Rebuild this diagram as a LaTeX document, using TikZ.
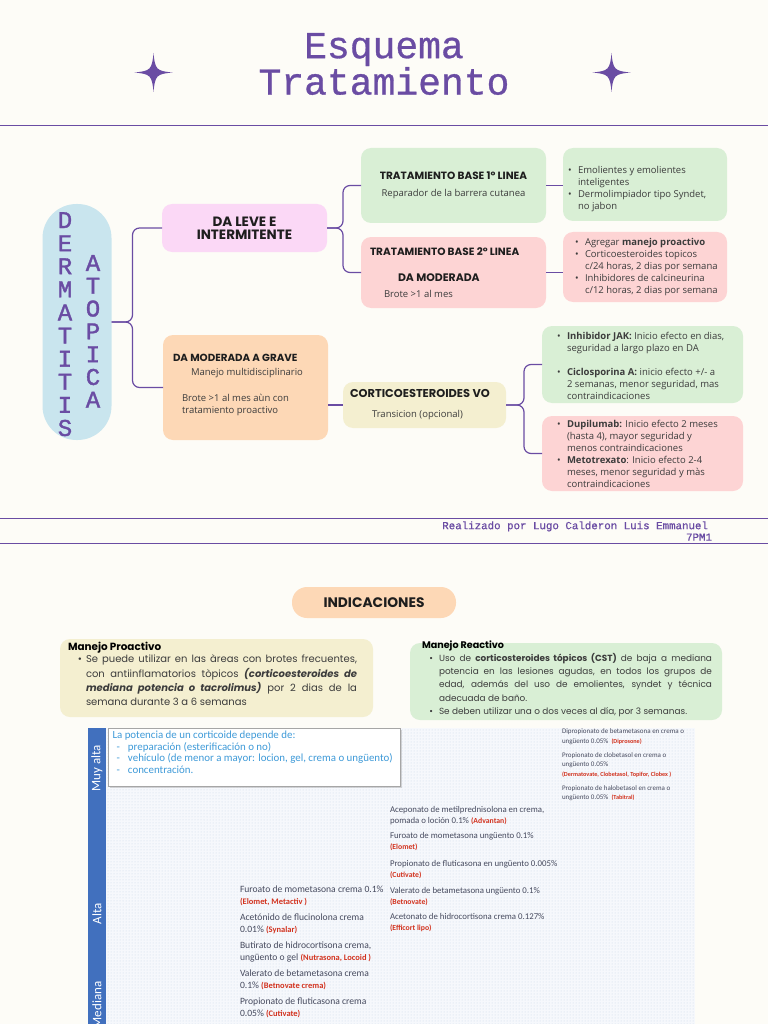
\documentclass[tikz,border=0pt]{standalone}
\usepackage{fontspec}
\setmainfont{Open Sans}
\newfontfamily\headfont{Poppins}
\newfontfamily\titlefont{Liberation Mono}[FakeBold=0.8]
\newfontfamily\letrafont{Liberation Mono}[FakeBold=1.5]
\newfontfamily\tablafont{Carlito}
\usetikzlibrary{positioning,patterns,shadows}

\definecolor{fondo}{HTML}{FDFCF7}
\definecolor{morado}{HTML}{6A4CA3}
\definecolor{celeste}{HTML}{C9E5EE}
\definecolor{rosa}{HTML}{FBD8F6}
\definecolor{verde}{HTML}{D9EFD5}
\definecolor{rojizo}{HTML}{FDD4D4}
\definecolor{durazno}{HTML}{FDD8B6}
\definecolor{amarillo}{HTML}{F4EFD0}
\definecolor{tinta}{HTML}{1E1E1E}
\definecolor{gris}{HTML}{3C3C3C}
\definecolor{azulbarra}{HTML}{4170BE}
\definecolor{punteado}{HTML}{F6F8FC}
\definecolor{puntos}{HTML}{C9D6EA}
\definecolor{azulnota}{HTML}{3E9AD8}
\definecolor{azultexto}{HTML}{464A5E}
\definecolor{rojo}{HTML}{D2321E}

\newcommand{\enc}[2][10.5]{{\headfont\bfseries\fontsize{#1}{10}\selectfont\color{tinta}#2}}
\newcommand{\bala}{\makebox[10pt][l]{\textbullet}}
\newcommand{\sig}{\hspace*{10pt}}
\makeatletter
\newcommand{\marca}[1]{{\color{rojo}\bfseries\fontsize{\fpeval{0.88*\f@size}}{\f@baselineskip}\selectfont #1}}
\makeatother

\begin{document}
\begin{tikzpicture}[x = 1pt, y = -1pt,
    every node/.style = {inner sep = 0pt, outer sep = 0pt},
    caja/.style = {rounded corners = 10pt},
    enlace/.style = {draw = morado, line width = 1.2pt, rounded corners = 7pt},
    texto/.style = {font = \fontsize{9.5}{12}\selectfont, text = gris, align = left},
    letra/.style = {font = \letrafont\fontsize{24}{24}\selectfont, text = morado},
    tabla/.style = {font = \tablafont\fontsize{8.8}{11}\selectfont, text = azultexto, align = left, anchor = north west},
    barra/.style = {rotate = 90, font = \tablafont\fontsize{13}{13}\selectfont, text = white}]

    \fill[fondo] (0,0) rectangle (768,1024);
    \useasboundingbox (0,0) rectangle (768,1024);

    \node[font = \titlefont\fontsize{38}{35}\selectfont, text = morado, align = center] (titulo) at (384,64) {Esquema\\Tratamiento};
    \foreach \cx in {153.5, 611.5}
        \fill[morado, shift = {(\cx,72.5)}] (0,-19.5) .. controls (1.5,-3) and (3,-1.5) .. (19,0)
            .. controls (3,1.5) and (1.5,3) .. (0,19.5) .. controls (-1.5,3) and (-3,1.5) .. (-19,0)
            .. controls (-3,-1.5) and (-1.5,-3) .. cycle;
    \draw[morado, line width = 1pt] (0,126) -- (768,126);

    \node[fill = celeste, rounded corners = 34pt, minimum width = 69pt, minimum height = 236pt] (derm) at (77,322) {};
    \foreach \l [count = \i] in {D,E,R,M,A,T,I,T,I,S}
        \node[letra] (d\i) at (65, 197 + 23.1*\i) {\l};
    \foreach \l [count = \i] in {A,T,O,P,I,C,A}
        \node[letra] (a\i) at (93, 240.2 + 22.8*\i) {\l};

    \node[caja, fill = rosa, minimum width = 165pt, minimum height = 48pt, align = center,
        font = \headfont\bfseries\fontsize{13.5}{13}\selectfont, text = tinta] (leve) at (244.5,228) {DA LEVE E\\INTERMITENTE};
    \node[caja, fill = durazno, minimum width = 165pt, minimum height = 105pt] (grave) at (245.5,387.5) {};
    \node[texto, right = 10pt of grave.west, yshift = 3pt] (tgrave) {\enc[10.3]{DA MODERADA A GRAVE}\\[2pt]
        \hspace*{18pt}Manejo multidisciplinario\\[14pt]
        \hspace*{9pt}Brote >1 al mes aùn con\\
        \hspace*{9pt}tratamiento proactivo};

    \node[caja, fill = verde, minimum width = 185pt, minimum height = 75pt, texto, align = center] (base1) at (453.5,185.5)
        {\enc{TRATAMIENTO BASE 1° LINEA}\\[5pt]Reparador de la barrera cutanea};
    \node[caja, fill = rojizo, minimum width = 185pt, minimum height = 71pt] (base2) at (453.5,272.5) {};
    \node[texto, right = 9pt of base2.west] (tbase2) {\enc{TRATAMIENTO BASE 2° LINEA}\\[14pt]
        \hspace*{28pt}\enc[10.9]{DA MODERADA}\\[4pt]
        \hspace*{14pt}Brote >1 al mes};

    \node[caja, fill = verde, minimum width = 164pt, minimum height = 73pt] (lista1) at (645,184.5) {};
    \node[texto, right = 5pt of lista1.west, yshift = -4.5pt] (tlista1) {\bala Emolientes y emolientes\\
        \sig inteligentes\\
        \bala Dermolimpiador tipo Syndet,\\
        \sig no jabon};
    \node[caja, fill = rojizo, minimum width = 164pt, minimum height = 70pt] (lista2) at (645,267) {};
    \node[texto, right = 12pt of lista2.west] (tlista2) {\bala Agregar \textbf{manejo proactivo}\\
        \bala Corticoesteroides topicos\\
        \sig c/24 horas, 2 dias por semana\\
        \bala Inhibidores de calcineurina\\
        \sig c/12 horas, 2 dias por semana};

    \node[caja, fill = amarillo, minimum width = 163pt, minimum height = 46pt] (cortico) at (424.5,405) {};
    \node[texto, right = 7pt of cortico.west] (tcortico) {\enc[11.4]{CORTICOESTEROIDES VO}\\[8pt]
        \hspace*{22pt}Transicion (opcional)};

    \node[caja, fill = verde, minimum width = 201pt, minimum height = 77pt] (jak) at (642.5,364.5) {};
    \node[texto, right = 15pt of jak.west, yshift = -1pt] (tjak) {\bala\textbf{Inhibidor JAK:} Inicio efecto en dias,\\
        \sig seguridad a largo plazo en DA\\[12pt]
        \bala\textbf{Ciclosporina A:} inicio efecto +/- a\\
        \sig 2 semanas, menor seguridad, mas\\
        \sig contraindicaciones};
    \node[caja, fill = rojizo, minimum width = 201pt, minimum height = 75pt] (dupi) at (642.5,453.5) {};
    \node[texto, right = 15pt of dupi.west] (tdupi) {\bala\textbf{Dupilumab:} Inicio efecto 2 meses\\
        \sig (hasta 4), mayor seguridad y\\
        \sig menos contraindicaciones\\
        \bala\textbf{Metotrexato}: Inicio efecto 2-4\\
        \sig meses, menor seguridad y màs\\
        \sig contraindicaciones};

    \draw[enlace] (derm.east) -- ++(21,0) |- (leve.west);
    \draw[enlace] (derm.east) -- ++(21,0) |- (grave.west);
    \draw[enlace] (leve.east) -- ++(16,0) |- (base1.west);
    \draw[enlace] (leve.east) -- ++(16,0) |- (base2.west);
    \draw[enlace] (base1.east) -- (base1.east -| lista1.west);
    \draw[enlace] (base2.east) -- (base2.east -| lista2.west);
    \draw[enlace] (cortico.west -| grave.east) -- (cortico.west);
    \draw[enlace] (cortico.east) -- ++(18,0) |- (jak.west);
    \draw[enlace] (cortico.east) -- ++(18,0) |- (dupi.west);

    \draw[morado, line width = 1pt] (0,518) -- (768,518);
    \draw[morado, line width = 1pt] (0,543) -- (768,543);
    \node[font = \titlefont\fontsize{10.8}{11.5}\selectfont, text = morado, align = right, anchor = east] (firma) at (712,531)
        {Realizado por Lugo Calderon Luis Emmanuel\hspace*{4pt}\\7PM1};

    \node[fill = durazno, rounded corners = 15pt, minimum width = 164pt, minimum height = 31pt,
        font = \headfont\bfseries\fontsize{13.8}{12}\selectfont, text = tinta] (indic) at (374,602.5) {INDICACIONES};

    \node[caja, fill = amarillo, minimum width = 313pt, minimum height = 78pt] (proact) at (216.5,678) {};
    \node[font = \headfont\bfseries\fontsize{10.4}{10}\selectfont, text = black, anchor = north west] (tproact)
        at ([xshift = 8pt, yshift = -3pt]proact.north west) {Manejo Proactivo};
    \node[font = \headfont\fontsize{10}{14.3}\selectfont, text = gris, text width = 271pt, align = justify, anchor = north west] (cproact)
        at ([xshift = 26pt, yshift = -16pt]proact.north west)
        {\noindent\llap{\textbullet\hspace{4pt}}Se puede utilizar en las àreas con brotes frecuentes,\linebreak
        con antiinflamatorios tòpicos \textbf{\textit{(corticoesteroides de}}\linebreak
        \textbf{\textit{mediana potencia o tacrolimus)}} por 2 dias de la\linebreak
        semana durante 3 a 6 semanas\par};

    \node[caja, fill = verde, minimum width = 312pt, minimum height = 77pt] (react) at (566,681.5) {};
    \node[font = \headfont\bfseries\fontsize{9.6}{10}\selectfont, text = black, anchor = north west] (treact)
        at ([xshift = 12pt, yshift = 2pt]react.north west) {Manejo Reactivo};
    \node[font = \headfont\fontsize{8.9}{13.4}\selectfont, text = gris, text width = 273pt, align = justify, anchor = north west] (creact)
        at ([xshift = 29pt, yshift = -10pt]react.north west)
        {\noindent\llap{\textbullet\hspace{6pt}}Uso de \textbf{corticosteroides tópicos (CST)} de baja a mediana\linebreak
        potencia en las lesiones agudas, en todos los grupos de\linebreak
        edad, además del uso de emolientes, syndet y técnica\linebreak
        adecuada de baño.\par
        \noindent\llap{\textbullet\hspace{6pt}}Se deben utilizar una o dos veces al día, por 3 semanas.\par};

    \begin{scope}
        \clip (0,0) rectangle (768,1024);
        \fill[punteado] (106,728) rectangle (695,1040);
        \fill[pattern = dots, pattern color = puntos] (106,728) rectangle (695,1040);
        \fill[azulbarra] (88,728) rectangle (106,1040);
        \node[barra] (muy) at (97,768) {Muy alta};
        \node[barra] (alta) at (97,914) {Alta};
        \node[barra] (mediana) at (97,1005) {Mediana};

        \node[draw = gray!70, fill = white, drop shadow = {opacity = 0.3, shadow xshift = 1.5pt, shadow yshift = -1.5pt},
            minimum width = 292pt, minimum height = 58pt] (nota) at (254,757) {};
        \node[tabla, font = \tablafont\fontsize{10.9}{11.7}\selectfont, text = azulnota] (tnota) at (112.5,731)
            {La potencia de un corticoide depende de:\\
            \makebox[15.5pt][l]{\hspace*{4pt}-}preparación (esterificación o no)\\
            \makebox[15.5pt][l]{\hspace*{4pt}-}vehículo (de menor a mayor: locion, gel, crema o ungüento)\\
            \makebox[15.5pt][l]{\hspace*{4pt}-}concentración.};

        \node[tabla, font = \tablafont\fontsize{7}{9.5}\selectfont] (muyalta) at (562,729)
            {Dipropionato de betametasona en crema o\\
            ungüento 0.05\%\ \ \marca{(Diprosone)}\\[4.5pt]
            Propionato de clobetasol en crema o\\
            ungüento 0.05\%\\
            \marca{(Dermatovate, Clobetasol, Topifor, Clobex )}\\[4.5pt]
            Propionato de halobetasol en crema o\\
            ungüento 0.05\%\ \ \marca{(Tabitral)}};
        \node[tabla] (altados) at (390,806)
            {Aceponato de metilprednisolona en crema,\\
            pomada o loción 0.1\% \marca{(Advantan)}\\[4pt]
            Furoato de mometasona ungüento 0.1\%\\
            \marca{(Elomet)}\\[6pt]
            Propionato de fluticasona en ungüento 0.005\%\\
            \marca{(Cutivate)}\\[5pt]
            Valerato de betametasona ungüento 0.1\%\\
            \marca{(Betnovate)}\\[4pt]
            Acetonato de hidrocortisona crema 0.127\%\\
            \marca{(Efficort lipo)}};
        \node[tabla, font = \tablafont\fontsize{9.6}{12}\selectfont] (altauno) at (240,886)
            {Furoato de mometasona crema 0.1\%\\
            \marca{(Elomet, Metactiv )}\\[4pt]
            Acetónido de flucinolona crema\\
            0.01\% \marca{(Synalar)}\\[4pt]
            Butirato de hidrocortisona crema,\\
            ungüento o gel \marca{(Nutrasona, Locoid )}\\[4pt]
            Valerato de betametasona crema\\
            0.1\% \marca{(Betnovate crema)}\\[4pt]
            Propionato de fluticasona crema\\
            0.05\% \marca{(Cutivate)}};
    \end{scope}
\end{tikzpicture}
\end{document}
